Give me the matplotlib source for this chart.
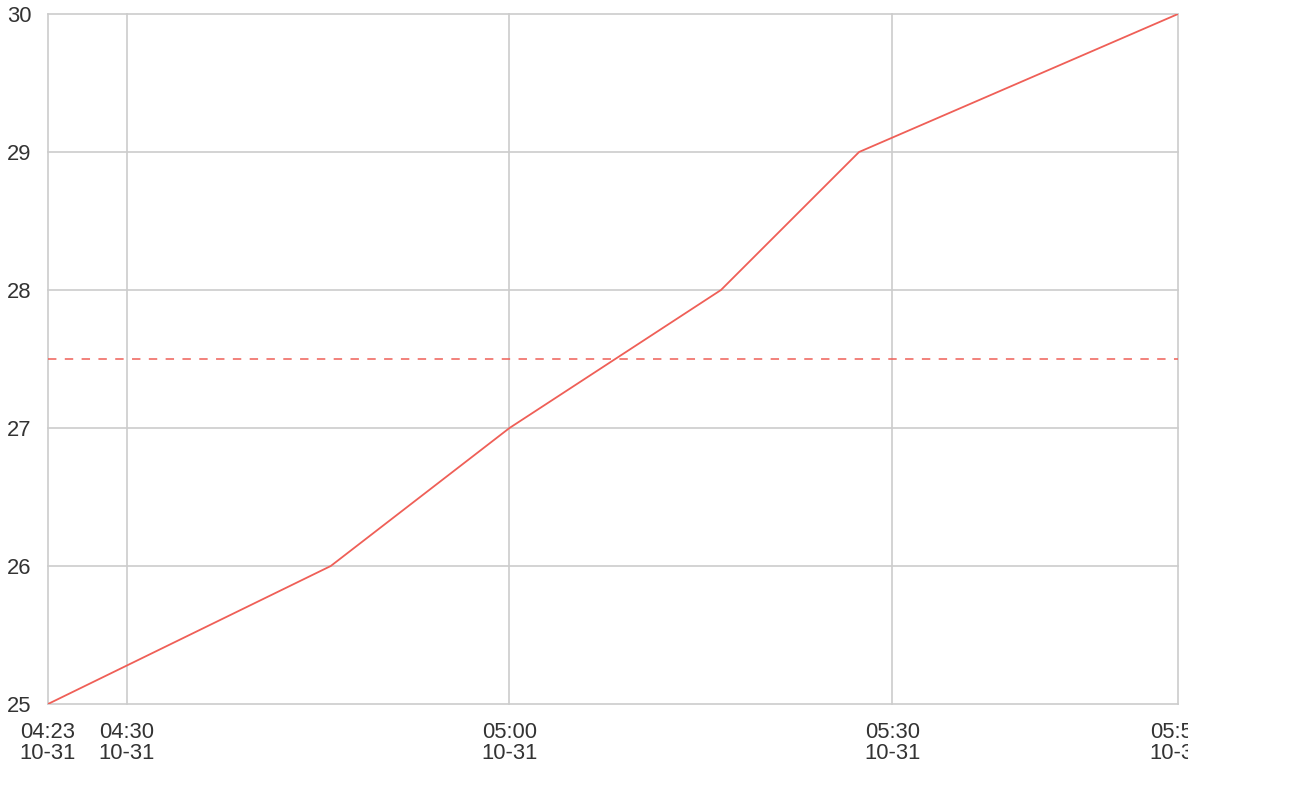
import matplotlib
matplotlib.use("Agg")
import matplotlib.pyplot as plt
import matplotlib.dates as mdates
from matplotlib.transforms import Bbox, TransformedBbox
from datetime import datetime

# data
times = ["2023-10-31 04:23:51", "2023-10-31 04:46:00", "2023-10-31 05:00:00",
         "2023-10-31 05:16:34", "2023-10-31 05:27:23", "2023-10-31 05:52:22"]
values = [25, 26, 27, 28, 29, 30]
threshold = 27.5
xtick_times = ["2023-10-31 04:23:51", "2023-10-31 04:30:00", "2023-10-31 05:00:00",
               "2023-10-31 05:30:00", "2023-10-31 05:52:22"]
yticks = [25, 26, 27, 28, 29, 30]

x = [datetime.strptime(t, "%Y-%m-%d %H:%M:%S") for t in times]
xt = [datetime.strptime(t, "%Y-%m-%d %H:%M:%S") for t in xtick_times]

W, H = 1316, 806
fig = plt.figure(figsize=(W / 100, H / 100), dpi=100)
ax = fig.add_axes([48 / W, (H - 704) / H, (1178 - 48) / W, (704 - 14) / H])

line_color = "#ef5f57"
grid_color = "#cccccc"
text_color = "#333333"
font = ["Liberation Sans", "DejaVu Sans"]

ax.plot(x, values, color=line_color, linewidth=1.3, solid_joinstyle="miter", zorder=3)
ax.axhline(threshold, color=line_color, linewidth=1.1, linestyle=(0, (5.5, 5.5)), zorder=3)

ax.set_xlim(x[0], x[-1])
ax.set_ylim(min(yticks), max(yticks))
ax.set_yticks(yticks)
ax.set_xticks(xt)
ax.xaxis.set_major_formatter(mdates.DateFormatter("%H:%M\n%m-%d"))

ax.grid(True, color=grid_color, linewidth=1.2)
ax.set_axisbelow(True)
for s in ax.spines.values():
    s.set_visible(False)
ax.tick_params(length=0, colors=text_color, labelsize=15.8)
ax.tick_params(axis="y", pad=12)
ax.tick_params(axis="x", pad=13)

for gl in ax.get_xgridlines() + ax.get_ygridlines():
    gl.set_clip_on(False)

clip = TransformedBbox(Bbox([[0, 0], [1188 / W, 1]]), fig.transFigure)
for lab in ax.get_xticklabels() + ax.get_yticklabels():
    lab.set_fontfamily(font)
    lab.set_linespacing(1.0)
for lab in ax.get_xticklabels():
    lab.set_clip_on(True)
    lab.set_clip_box(clip)

fig.savefig("out.png", dpi=100, facecolor="white")
